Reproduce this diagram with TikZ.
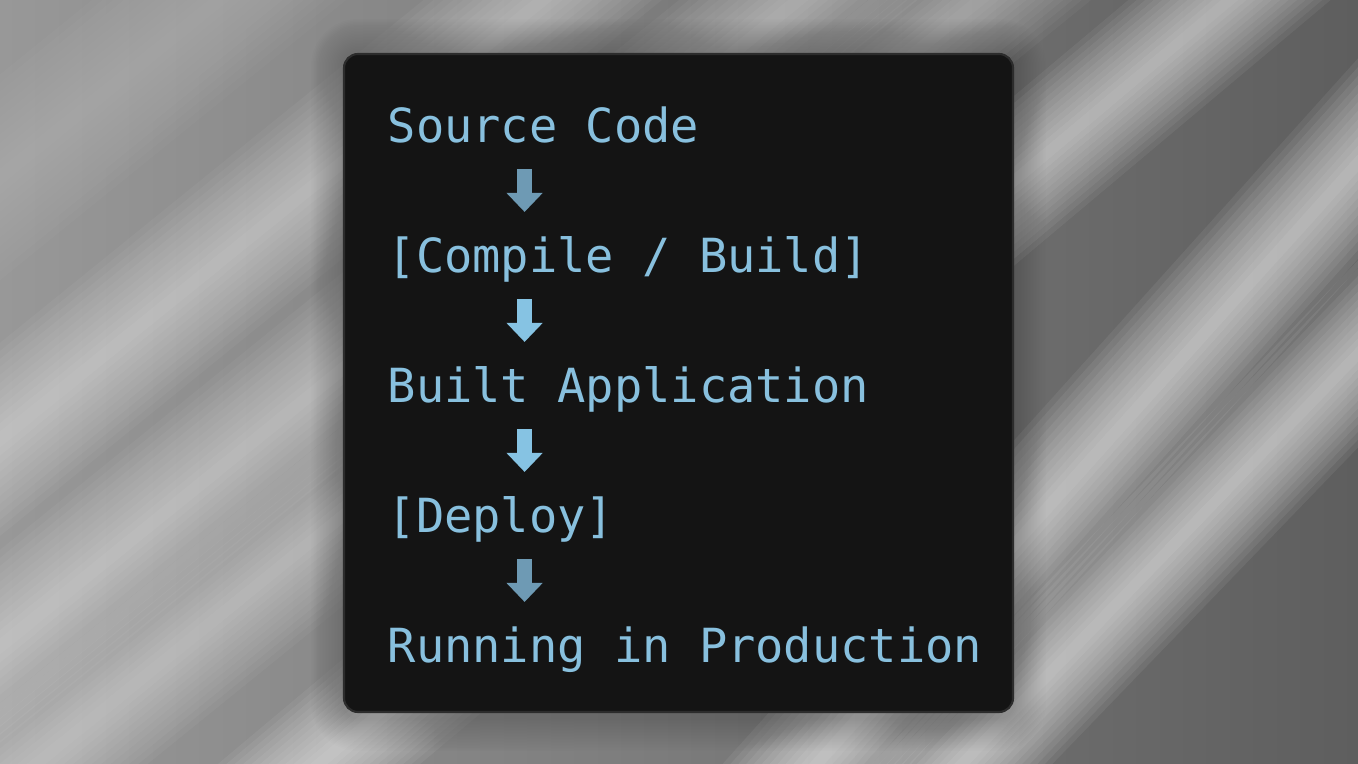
\documentclass[tikz,border=0pt]{standalone}
\usepackage{fontspec}
\usepackage{tikz}
\usetikzlibrary{arrows.meta}
\newfontfamily\codefont{DejaVu Sans Mono}

\definecolor{bgleft}{HTML}{989898}
\definecolor{bgright}{HTML}{5E5E5E}
\definecolor{cardbg}{HTML}{141414}
\definecolor{cardrim}{HTML}{2C2C2C}
\definecolor{codeblue}{HTML}{88C0DE}
\definecolor{arrdim}{HTML}{6E9AB4}
\definecolor{arrlit}{HTML}{86C3E3}

\begin{document}
\begin{tikzpicture}[x=0.01cm, y=0.01cm,
    codeline/.style={anchor=base west, inner sep=0pt, text=codeblue,
      font=\codefont\fontsize{13.37pt}{16pt}\selectfont},
    flowarr/.style={#1, line width=0.15cm, -{Triangle[width=0.35cm, length=0.19cm]}}]
    \useasboundingbox (0,0) rectangle (1358,764);

    % background with soft streaks
    \begin{scope}
      \clip (0,0) rectangle (1358,764);
      \shade[left color=bgleft, right color=bgright] (0,0) rectangle (1358,764);
      \foreach \cx/\cy/\ang/\wd/\op in {166/459/39/75/0.042, 166/252/39/75/0.042, 166/105/39/70/0.04,
          140/700/39/80/0.018, 1133/683/40/65/0.06, 1195/420/48/70/0.065, 1215/262/46/65/0.065}
        \foreach \k in {1,...,12}
          \fill[white, opacity=\op, rotate around={\ang:(\cx,\cy)}]
            (\cx-1600,\cy-\wd*\k/12) rectangle (\cx+1600,\cy+\wd*\k/12);
    \end{scope}

    % card shadow
    \foreach \s in {1,...,22}
      \fill[black, opacity=0.009, rounded corners=0.14cm+\s*0.15mm]
        (344-1.5*\s,46-1.5*\s) rectangle (1013+1.5*\s,712+1.5*\s);

    % card
    \fill[cardbg, rounded corners=0.14cm] (344,52) rectangle (1013,710);
    \begin{scope}
      \clip[rounded corners=0.14cm] (344,52) rectangle (1013,710);
      \foreach \cx/\cy/\wd in {420/160/90, 640/430/80, 900/650/70}
        \foreach \k in {1,...,10}
          \fill[white, opacity=0.0035, rotate around={42:(\cx,\cy)}]
            (\cx-1600,\cy-\wd*\k/10) rectangle (\cx+1600,\cy+\wd*\k/10);
    \end{scope}
    \draw[cardrim, line width=0.6pt, rounded corners=0.14cm] (344,52) rectangle (1013,710);

    % pipeline
    \node[codeline] (src) at (387,621) {Source Code};
    \node[codeline] (cmp) at (387,491) {[Compile / Build]};
    \node[codeline] (app) at (387,361) {Built Application};
    \node[codeline] (dep) at (387,231) {[Deploy]};
    \node[codeline] (run) at (387,101) {Running in Production};

    \foreach \a/\b/\c in {src/cmp/arrdim, cmp/app/arrlit, app/dep/arrlit, dep/run/arrdim}
      \draw[flowarr=\c] ([xshift=1.375cm, yshift=-0.26cm]\a.base west)
        -- ([xshift=1.375cm, yshift=0.61cm]\b.base west);
\end{tikzpicture}
\end{document}
